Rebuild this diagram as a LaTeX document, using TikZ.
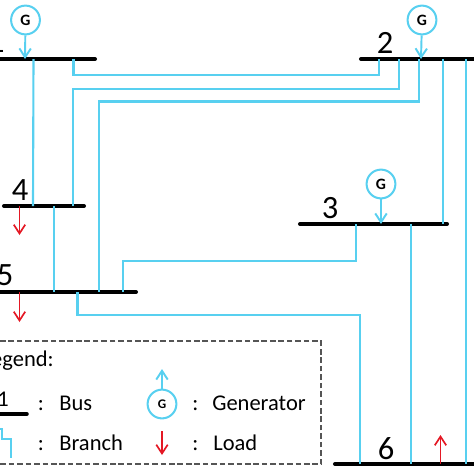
\documentclass[tikz,border=0pt]{standalone}
\usepackage{fontspec}
\setmainfont{Carlito}
\usetikzlibrary{arrows.meta}
\definecolor{branchblue}{RGB}{88,208,240}
\definecolor{loadred}{RGB}{228,24,36}
\definecolor{boxgray}{RGB}{85,85,85}
\tikzset{
  bus/.style={line width=2.3pt, line cap=round, black},
  branch/.style={line width=1.2pt, branchblue},
  gen/.style={circle, draw=branchblue, line width=1.15pt, fill=white, minimum size=16.4pt, inner sep=0pt, font=\bfseries\fontsize{9}{9}\selectfont},
  flow/.style={line width=1.1pt, branchblue, -{Straight Barb[length=5pt,width=6.5pt]}},
  load/.style={line width=0.95pt, loadred, -{Straight Barb[length=5pt,width=6.5pt]}},
  busnum/.style={font=\fontsize{18.5}{18.5}\selectfont, inner sep=0pt, anchor=base},
  legtext/.style={font=\fontsize{12.8}{12.8}\selectfont, inner sep=0pt, anchor=base west}}

\begin{document}
\begin{tikzpicture}[x=0.02cm, y=-0.02cm]
  \useasboundingbox (0,0) rectangle (474,474);
    \coordinate (b1l) at (-5,59);
    \coordinate (b1r) at (95,59);
    \coordinate (b2l) at (361,59);
    \coordinate (b2r) at (480,59);
    \coordinate (b3l) at (300,224);
    \coordinate (b3r) at (447,224);
    \coordinate (b4l) at (4,206);
    \coordinate (b4r) at (84,206);
    \coordinate (b5l) at (-5,292);
    \coordinate (b5r) at (136,292);
    \coordinate (b6l) at (335,464);
    \coordinate (b6r) at (480,464);
    \draw [bus] (b1l) -- (b1r);
    \draw [bus] (b2l) -- (b2r);
    \draw [bus] (b3l) -- (b3r);
    \draw [bus] (b4l) -- (b4r);
    \draw [bus] (b5l) -- (b5r);
    \draw [bus] (b6l) -- (b6r);
  \node (n1) [busnum, anchor=base east] at (5,52) {1};
  \node (n2) [busnum] at (385,53) {2};
  \node (n3) [busnum] at (330,218) {3};
  \node (n4) [busnum] at (20,200) {4};
  \node (n5) [busnum] at (5,285) {5};
  \node (n6) [busnum] at (386,459) {6};
    \coordinate (a14) at (33.5,59);
    \coordinate (b14) at (33,206);
    \coordinate (a12) at (73.5,59);
    \coordinate (c12) at (379,75);
    \coordinate (b12) at (379,59);
    \coordinate (a42) at (73,206);
    \coordinate (c42) at (399,89);
    \coordinate (b42) at (399,59);
    \coordinate (a52) at (99,292);
    \coordinate (c52) at (419,101.5);
    \coordinate (b52) at (419,59);
    \coordinate (a45) at (54,206);
    \coordinate (b45) at (54,292);
    \coordinate (a53) at (123,292);
    \coordinate (c53) at (356,261);
    \coordinate (b53) at (356,224);
    \coordinate (a56) at (77.5,292);
    \coordinate (c56) at (360,315);
    \coordinate (b56) at (360,464);
    \coordinate (a23) at (443,59);
    \coordinate (b23) at (443,224);
    \coordinate (a26) at (466,59);
    \coordinate (b26) at (466,464);
    \coordinate (a36) at (411,224);
    \coordinate (b36) at (411,464);
\draw [branch] (a14) -- (b14);
\draw [branch] (a12) |- (c12) -- (b12);
\draw [branch] (a42) |- (c42) -- (b42);
\draw [branch] (a52) |- (c52) -- (b52);
\draw [branch] (a45) -- (b45);
\draw [branch] (a53) |- (c53) -- (b53);
\draw [branch] (a56) |- (c56) -- (b56);
\draw [branch] (a23) -- (b23);
\draw [branch] (a26) -- (b26);
\draw [branch] (a36) -- (b36);
  \node (g1) [gen] at (25.5,20) {G};
  \node (g2) [gen] at (422,20) {G};
  \node (g3) [gen] at (381,184) {G};
    \coordinate (t1) at (25,59);
    \coordinate (t2) at (421,59);
    \coordinate (t3) at (381,224);
\draw [flow] (g1) -- (t1);
\draw [flow] (g2) -- (t2);
\draw [flow] (g3) -- (t3);
    \coordinate (l4a) at (19.5,206);
    \coordinate (l4b) at (19.5,235);
    \coordinate (l5a) at (19.5,292);
    \coordinate (l5b) at (19.5,322);
    \coordinate (l6a) at (440.5,464);
    \coordinate (l6b) at (440.5,435);
\draw [load] (l4a) -- (l4b);
\draw [load] (l5a) -- (l5b);
\draw [load] (l6a) -- (l6b);
    \coordinate (boxa) at (-20,341);
    \coordinate (boxb) at (321,464);
  \draw [boxgray, line width=0.7pt, dash pattern=on 3.2pt off 1.6pt] (boxa) rectangle (boxb);
  \node (legend) [legtext, anchor=base east] at (54,366) {Legend:};
  \node (legone) [legtext, anchor=base east] at (9,406) {1};
    \coordinate (lbusa) at (-5,414);
    \coordinate (lbusb) at (27,414);
  \draw [bus, line width=2pt] (lbusa) -- (lbusb);
    \coordinate (lbra) at (-5,429);
    \coordinate (lbrb) at (2,429);
    \coordinate (lbrc) at (2,439);
    \coordinate (lbrd) at (11,439);
    \coordinate (lbre) at (11,458);
  \draw [branch] (lbra) -- (lbrb) -- (lbrc) -- (lbrd) -- (lbre);
  \node (cbus) [legtext] at (37.5,410) {:};
  \node (tbus) [legtext] at (59,410) {Bus};
  \node (cbranch) [legtext] at (37.5,450) {:};
  \node (tbranch) [legtext] at (59,450) {Branch};
  \node (lgen) [gen, font=\bfseries\fontsize{7.5}{7.5}\selectfont] at (162,404) {G};
    \coordinate (lgent) at (162,369);
  \draw [flow] (lgen) -- (lgent);
    \coordinate (lloada) at (162,431);
    \coordinate (lloadb) at (162,455);
  \draw [load] (lloada) -- (lloadb);
  \node (cgen) [legtext] at (192,410) {:};
  \node (tgen) [legtext] at (212,410) {Generator};
  \node (cload) [legtext] at (192,450) {:};
  \node (tload) [legtext] at (213,450) {Load};
\end{tikzpicture}
\end{document}
